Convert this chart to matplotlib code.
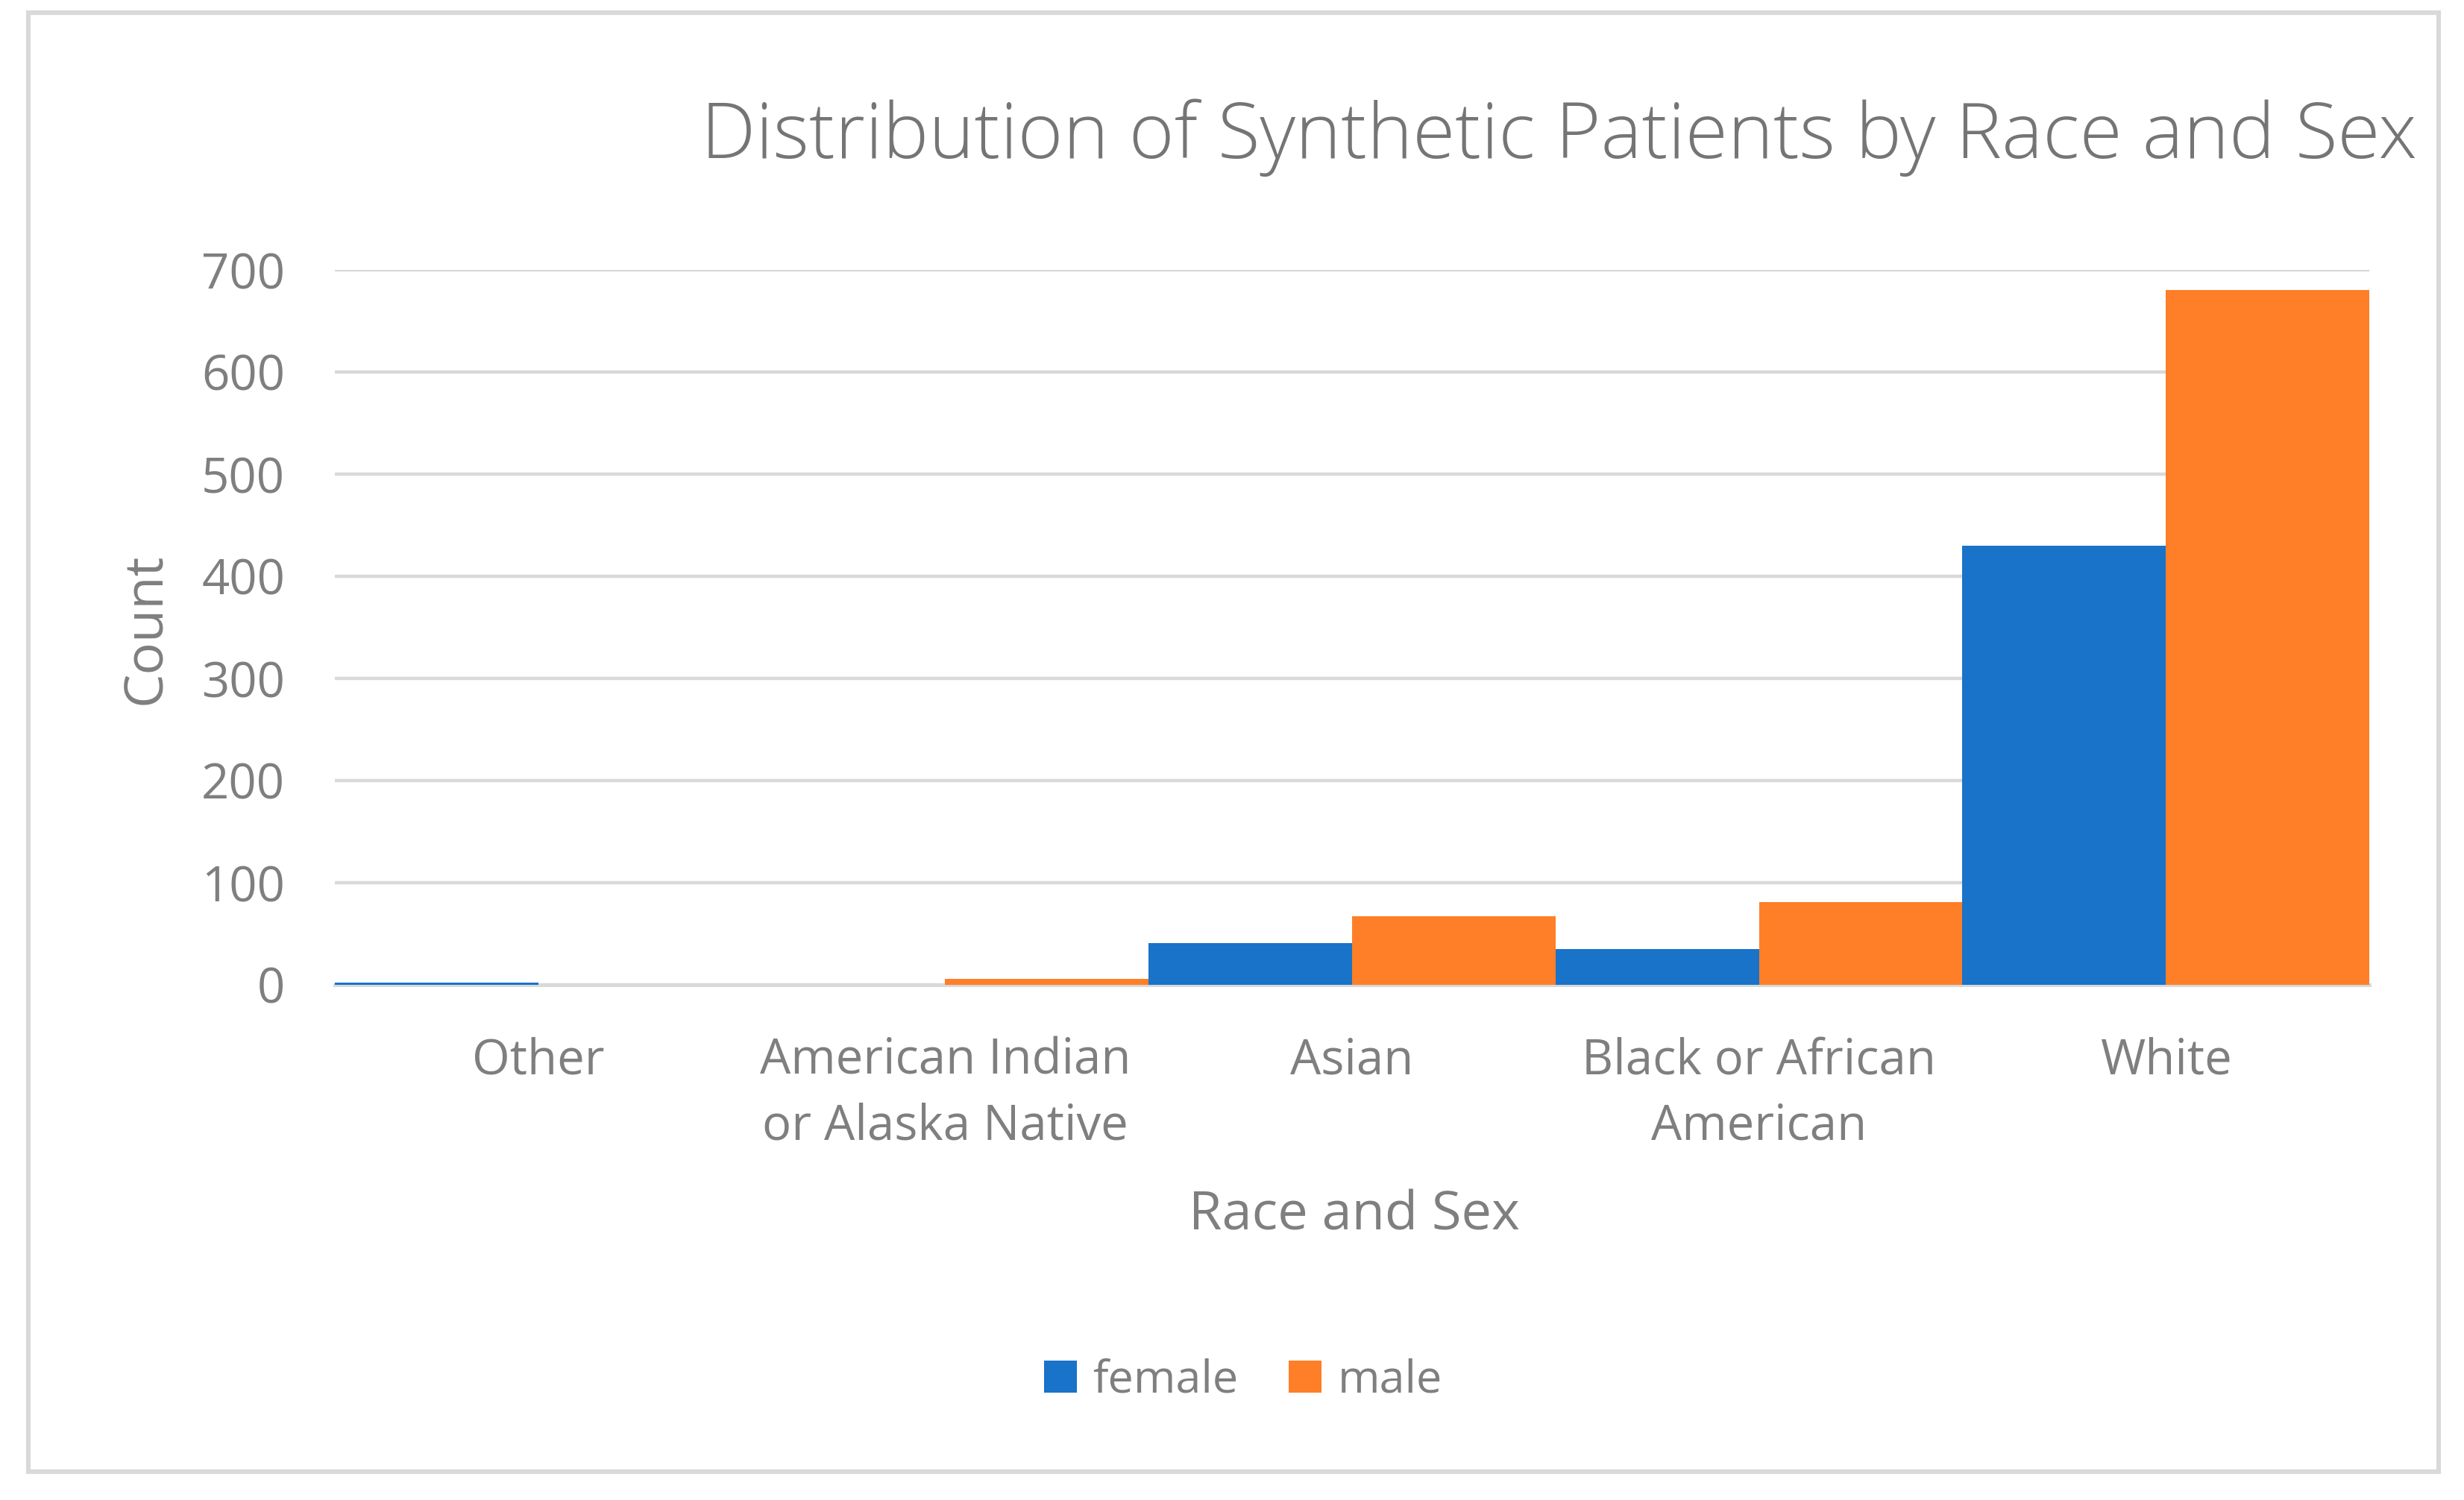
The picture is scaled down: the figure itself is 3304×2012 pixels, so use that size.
import matplotlib
matplotlib.use("Agg")
import matplotlib.pyplot as plt
from matplotlib.patches import Rectangle
import numpy as np

categories = ["Other", "American Indian\nor Alaska Native", "Asian", "Black or African\nAmerican", "White"]
female = [2, 0, 41, 35, 430]
male = [0, 6, 67, 81, 680]
yticks = [0, 100, 200, 300, 400, 500, 600, 700]

plt.rcParams['font.family'] = ['Open Sans', 'DejaVu Sans']
TXT = '#7f7f7f'
GRID = '#d9d9d9'
BLUE = '#1873c9'
ORANGE = '#fe7f27'

fig = plt.figure(figsize=(16.52, 10.06), dpi=200)
fig.patches.append(Rectangle((38/3304, 1-1974/2012), (3270-38)/3304, (1974-17)/2012,
                             transform=fig.transFigure, fill=False, edgecolor=GRID, linewidth=2.2))

ax = fig.add_axes([449/3304, 1-1321/2012, (3177-449)/3304, (1321-362)/2012])
x = np.arange(len(categories))
w = 0.5
ax.bar(x - w/2, female, width=w, color=BLUE, label='female', zorder=3)
ax.bar(x + w/2, male, width=w, color=ORANGE, label='male', zorder=3)
ax.set_xlim(-0.5, len(categories) - 0.5)
ax.set_ylim(0, 700)
ax.set_yticks(yticks)
ax.set_yticklabels([str(v) for v in yticks])
ax.set_xticks(x)
ax.set_xticklabels(categories, linespacing=1.45)
ax.grid(axis='y', color=GRID, linewidth=1.6, zorder=0)
for s in ['top', 'right', 'left']:
    ax.spines[s].set_visible(False)
ax.spines['bottom'].set_color(GRID)
ax.spines['bottom'].set_linewidth(1.8)
ax.spines['bottom'].set_zorder(2)
ax.tick_params(axis='y', length=0, pad=24, labelsize=23.5, labelcolor=TXT)
ax.tick_params(axis='x', length=0, pad=25, labelsize=23.5, labelcolor=TXT)

fig.text(3241/3304, 1-185/2012, "Distribution of Synthetic Patients by Race and Sex",
         ha='right', va='center', fontsize=37.4, color='#757575', fontweight='light')
fig.text(196/3304, 1-843/2012, "Count", rotation=90, ha='center', va='center',
         fontsize=26, color=TXT)
fig.text(1816/3304, 1-1631/2012, "Race and Sex", ha='center', va='center',
         fontsize=26, color=TXT)

leg = fig.legend(loc='center', bbox_to_anchor=(1667/3304, 1-1852/2012), ncol=2, frameon=False,
                 fontsize=22, handlelength=0.72, handleheight=0.72, handletextpad=0.35,
                 columnspacing=1.1, labelcolor=TXT)

fig.savefig("out.png", dpi=200)
